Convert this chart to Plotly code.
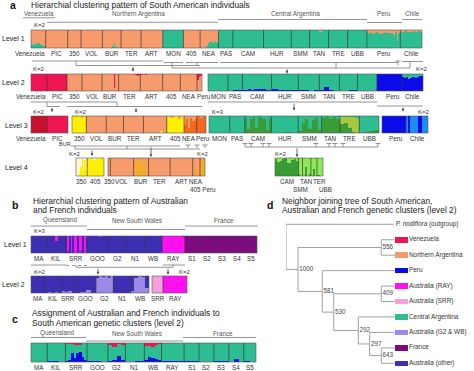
import plotly.graph_objects as go

W, H = 474, 371
FONT = "Liberation Sans, Arial, sans-serif"

# ---------------- colours ----------------
ORANGE = "#F79B6C"
TEAL = "#2DBD92"
RED = "#EF1452"
DARKRED = "#C8102E"
BLUE = "#0B0BEA"
LBLUE = "#1E8DF0"
YELLOW = "#FFF000"
DORANGE = "#F36A1E"
DGREEN = "#3B9B34"
LIME = "#A8C73E"
LGREEN = "#8EE85A"
CREAM = "#FFF8D2"
GOLD = "#F3AE1F"
AUS = "#3C2FB4"
MAGENTA = "#FF10F0"
PURPLE = "#7E0A80"
LPURPLE = "#9A8AE6"
PINK = "#F5A0DD"

# ---------------- data: panel a ----------------
L1_pops = ["Venezuela", "PIC", "350", "VOL", "BUR", "TER", "ART", "MON", "405", "NEA",
           "PAS", "CAM", "HUR", "SMM", "TAN", "TRE", "UBB", "Peru", "Chile"]
L1_sizes = [44, 66, 40, 64, 56, 60, 65, 62, 50, 55, 43, 92, 83, 55, 57, 57, 58, 100, 65]
L1_green = [
    [0.22, 0.18, 0.25, 0.2, 0.28, 0.3, 0.2, 0.15, 0.12, 0.1],
    [0], [0], [0],
    [0, 0, 0, 0, 0, 0.12, 0.3, 0.08, 0, 0],
    [0], [0], [1], [0],
    [0, 0, 0, 0, 0.1, 0.25, 0.35, 0.4, 0.3, 0.38, 0.32, 0.3],
    [1], [1], [1], [1], [1, 1, 1, 0.9, 1, 1], [1], [1],
    [0.85, 0.82, 0.88, 0.8, 0.84, 0.9, 0.86, 0.8, 0.83, 0.88, 0.85, 0.82, 0.86, 0.84, 0.7, 0.88, 0.4, 0.86],
    [0.88, 0.9, 0.92, 0.9, 0.87, 0.91, 0.93, 0.9, 0.92, 0.9],
]

L2A_pops = ["Venezuela", "PIC", "350", "VOL", "BUR", "TER", "ART", "405", "NEA", "Peru"]
L2A_sizes = [48, 60, 45, 60, 50, 65, 67, 53, 50, 15]
L2A_red = [[1], [1], [0], [0], [0, 0, 0, 0, 0, 0, 0, 0.85, 0, 0],
           [0, 0, 0, 0, 0, 0, 0, 0, 0, 0, 0.06, 0.1, 0.04],
           [0.08, 0, 0.05, 0, 0, 0, 0, 0, 0, 0], [0], [0], [0.35, 0.2, 0.1]]

L2B_pops = ["MON", "PAS", "CAM", "HUR", "SMM", "TAN", "TRE", "UBB", "Peru", "Chile"]
L2B_sizes = [60, 43, 87, 80, 63, 60, 54, 58, 75, 63]
L2B_blue = [[0], [0.02, 0.04, 0.03],
            [0.05, 0.08, 0.12, 0.07, 0.1, 0.14, 0.09, 0.12, 0.08, 0.06],
            [0.09, 0.12, 0.07, 0.05, 0.06, 0.04, 0.05, 0.03],
            [0.03, 0.05, 0.02, 0.04], [0.03, 0.22, 0.04, 0.02], [0.02, 0.03], [0.02], [1],
            [0.82, 0.76, 0.8, 0.72, 0.78, 0.84, 0.76, 0.8, 0.86, 0.9]]

L3A_pops = ["Venezuela", "PIC"]
L3A_sizes = [48, 63]
L3A_darkred = [[1], [0]]

L3B_pops = ["350", "VOL", "BUR", "TER", "ART", "405", "NEA", "Peru"]
L3B_sizes = [43, 60, 52, 60, 70, 52, 38, 28]
L3B_yellow = [[1, 0.95, 1, 0.9, 1], [0], [0], [0], [0, 0, 0, 0, 0, 0.1, 0],
              [1, 0.9, 0.95, 1, 0.85, 1], [0], [0]]
L3B_dorange = [[0], [0], [0], [0], [0], [0], [0.5, 0.8, 0.3, 0.9, 0.7, 0.85], [1, 0.9, 1]]

L3C_pops = ["MON", "PAS", "CAM", "HUR", "SMM", "TAN", "TRE", "UBB"]
L3C_sizes = [62, 45, 80, 80, 70, 55, 58, 59]
L3C_dgreen = [[0], [0], [0.9, 0.25, 0.85, 0.92, 0.3, 0.95, 0.9, 0.8, 0.2, 0.88],
              [0, 0, 0.06, 0], [0.1, 0.6, 0.8, 0.25, 0.75, 0.9, 0.15],
              [0.9, 0.95, 0.85, 0.92, 0.8], [0.55, 0.6, 0.3, 0.05, 0], [0, 0.05, 0.12, 0.2]]
L3C_lime = [[0], [0], [0], [0], [0], [0], [0.4, 0.35, 0.65, 0.9, 0.9], [0]]

L3D_pops = ["Peru", "Chile"]
L3D_sizes = [71, 65]
L3D_blue = [[1], [0, 1, 0, 0, 0, 0, 1, 1, 0, 0, 0]]

L4A_pops = ["350", "405"]
L4A_sizes = [34, 51]
L4A_yellow = [[0, 0, 0.15, 0.5, 0.95, 0.4, 0.9, 0.3], [1, 0.95, 1, 0.9, 1, 0.95, 1, 1]]

L4B_pops = ["350", "VOL", "BUR", "TER", "ART", "NEA", "405 Peru"]
L4B_sizes = [7, 70, 45, 65, 68, 22, 15]
L4B_gold = [[0], [0], [0, 0.85, 0.9, 0.6, 0.95, 0.3, 0.8, 0], [0], [0], [0, 0, 0.4, 0], [0.9, 1, 0.85]]

L4C_pops = ["CAM", "SMM", "TAN", "TER", "UBB"]
L4C_sizes = [70, 12, 25, 18, 18]
L4C_dgreen = [[0.95, 0.8, 0.85, 0.92, 1, 0.75, 0.7, 0.9, 0.95, 0.85], [0.1, 0],
              [0, 0.5, 0, 0.1], [0, 0.4, 0], [0.05, 0]]

# ---------------- data: panel b ----------------
B1_pops = ["MA", "KIL", "SRR", "GOO", "G2", "N1", "WB", "RAY", "S1", "S2", "S3", "S4", "S5"]
B1_sizes = [49, 55, 65, 63, 53, 57, 52, 68, 45, 45, 45, 45, 37]
B1_magenta = [[0], [0, 0, 0, 0.3, 0, 0, 0],
              [0, 0.9, 0, 1, 0, 1, 1, 0, 1, 0.8, 0, 1, 0.1],
              [0, 0, 0.05, 0], [0], [0], [0], [1, 1, 1, 1, 1, 1, 0.95],
              [0], [0], [0], [0], [0]]
B1_purple = [[0], [0], [0], [0], [0], [0], [0], [0, 0, 0, 0, 0, 0, 0.05],
             [1], [1], [1], [1], [1]]

B2A_pops = ["MA", "KIL", "SRR", "GOO", "G2", "N1", "WB"]
B2A_sizes = [40, 52, 40, 63, 52, 52, 55]
B2A_light = [[0], [0, 0.05, 0, 0.08, 0], [0.1, 0.05, 0.12, 0], [0, 0.08, 0.2, 0],
             [0.9, 1, 0.95, 1, 0.88, 1], [0], [0.1, 0.9, 1, 0.95, 0.3]]

B2B_pops = ["SRR", "RAY"]
B2B_sizes = [33, 72]
B2B_pink = [[1], [0]]

# ---------------- data: panel c ----------------
C_pops = ["MA", "KIL", "SRR", "GOO", "G2", "N1", "WB", "RAY", "S1", "S2", "S3", "S4", "S5"]
C_sizes = [49, 55, 65, 63, 53, 57, 52, 68, 45, 45, 45, 45, 37]
C_blue = [[0.02, 0.01], [0.03, 0.05, 0.02], [0.05, 0.1, 0.45, 0.2, 0.5, 0.55, 0.25, 0.1],
          [0.05, 0.03, 0.02], [0.05, 0.12, 0.3, 0.08], [0.02, 0.03],
          [0.1, 0.25, 0.2, 0.15, 0.08], [0.06, 0.04, 0.03], [0.03], [0.02], [0.03],
          [0.02, 0.15, 0.02], [0.04, 0.02]]
C_red = [[0], [0], [0.05, 0.1, 0], [0], [0.12, 0.2, 0.05, 0.1], [0],
         [0.18, 0.22, 0.1, 0.05], [0], [0.02], [0], [0], [0], [0]]

# ---------------- data: panel d (tree) ----------------
TREE_LEAVES = ["<i>P. nodiflora</i> (outgroup)", "Venezuela", "Northern Argentina", "Peru",
               "Australia (RAY)", "Australia (SRR)", "Central Argentina",
               "Australia (G2 & WB)", "France", "Australia (other)"]
TREE_LEAF_COLORS = [None, RED, ORANGE, BLUE, MAGENTA, PINK, TEAL, LPURPLE, PURPLE, AUS]
TREE_LEAF_DEPTH = [107.7, 108.7, 108.7, 108.7, 108.7, 108.7, 108.7, 108.7, 108.7, 108.7]
NODE_SUPPORT = ["556", "409", "643", "297", "292", "530", "581", "1000", ""]
NODE_DEPTH = [95.3, 95.3, 95.3, 83.7, 72.3, 47.7, 36.3, 12.0, 0.0]
NODE_CHILDREN = [("L1", "L2"), ("L4", "L5"), ("L8", "L9"), ("L7", "N2"), ("L6", "N3"),
                 ("N1", "N4"), ("L3", "N5"), ("N0", "N6"), ("L0", "N7")]

# ---------------- builders ----------------
traces, shapes, annots = [], [], []
axes_layout = {}
naxes = [0]
LABEL_SHIFT = {("a1", "Venezuela"): -8, ("a2", "Venezuela"): -8, ("a3", "Venezuela"): -8,
               ("a2", "Peru"): 4, ("a3", "Peru"): 2, ("a3", "NEA"): -1,
               ("a4c", "TER"): 6, ("a4c", "UBB"): 6}
LINE_C = "#7a7a7a"
TITLE_SIZE = 8.4


def add_axes(x0, x1, y0, y1, xr, yr):
    naxes[0] += 1
    s = "" if naxes[0] == 1 else str(naxes[0])
    axes_layout["xaxis" + s] = dict(domain=[x0 / W, x1 / W], range=xr, visible=False,
                                    fixedrange=True, anchor="y" + s)
    axes_layout["yaxis" + s] = dict(domain=[1 - y1 / H, 1 - y0 / H], range=yr, visible=False,
                                    fixedrange=True, anchor="x" + s)
    return "x" + s, "y" + s


def structure_block(tag, box, pops, sizes, comps, rows=None):
    x0, x1, y0, y1 = box
    total = sum(sizes)
    xa, ya = add_axes(x0, x1, y0, y1, [0, total], [0, 1])
    xs, ws = [], []
    cols = [[] for _ in comps]
    start = 0
    for p, size in enumerate(sizes):
        n = max(len(v[p]) for _, v in comps if v is not None)
        w = size / n
        for k in range(n):
            xs.append(start + (k + 0.5) * w)
            ws.append(w * 1.02)
            vals = []
            for _, v in comps:
                if v is None:
                    vals.append(None)
                else:
                    arr = v[p]
                    vals.append(arr[min(k * len(arr) // n, len(arr) - 1)])
            rem = max(0.0, 1 - sum(a for a in vals if a is not None))
            for ci, a in enumerate(vals):
                cols[ci].append(rem if a is None else a)
        start += size
    base = [0.0] * len(xs)
    for ci, (col, _) in enumerate(comps):
        yv = [c if c > 0 else None for c in cols[ci]]
        traces.append(go.Bar(x=xs, y=yv, base=list(base), width=ws,
                             marker=dict(color=col, line=dict(width=0)),
                             xaxis=xa, yaxis=ya, hoverinfo="skip", showlegend=False))
        base = [b + c for b, c in zip(base, cols[ci])]
    c = 0
    for size in sizes[:-1]:
        c += size
        shapes.append(dict(type="line", xref=xa, yref=ya + " domain", x0=c, x1=c, y0=0, y1=1,
                           line=dict(color="#3a3a3a", width=0.7)))
    shapes.append(dict(type="rect", xref=xa + " domain", yref=ya + " domain", x0=0, x1=1,
                       y0=0, y1=1, line=dict(color="#555", width=0.6)))
    c = 0
    for p, (pop, size) in enumerate(zip(pops, sizes)):
        row = rows[p] if rows else 0
        annots.append(dict(x=c + size / 2, y=0, xref=xa, yref=ya + " domain", text=pop,
                           showarrow=False, yanchor="top", xanchor="center",
                           yshift=-row * 8, xshift=LABEL_SHIFT.get((tag, pop), 0),
                           font=dict(size=6.3, color="#333")))
        c += size


def text(x, y, s, size=6.3, anchor="left", color="#333"):
    annots.append(dict(x=x / W, y=1 - y / H, xref="paper", yref="paper", text=s,
                       showarrow=False, xanchor=anchor, yanchor="middle",
                       font=dict(size=size, color=color)))


def seg(x0, y0, x1, y1, dash="solid", color=LINE_C, width=0.8):
    shapes.append(dict(type="line", xref="paper", yref="paper", x0=x0 / W, x1=x1 / W,
                       y0=1 - y0 / H, y1=1 - y1 / H, line=dict(color=color, width=width, dash=dash)))


def arrow(x, y0, y1):
    annots.append(dict(x=x / W, y=1 - y1 / H, xref="paper", yref="paper", ax=0,
                       ay=-(y1 - y0), axref="pixel", ayref="pixel", text="", showarrow=True,
                       arrowhead=2, arrowsize=0.7, arrowwidth=0.8, arrowcolor="#444"))


def tee(x, y0, y1):
    seg(x - 2.5, y0, x + 2.5, y0)
    seg(x, y0, x, y1)


# ---------------- panel a ----------------
text(13, 5.5, "<b>a</b>", size=10.5, anchor="center", color="#111")
text(29, 5.5, "Hierarchial clustering pattern of South American individuals", size=TITLE_SIZE, color="#222")
for lab, cx in [("Venezuela", 39), ("Northern Argentina", 138), ("Central Argentina", 295),
                ("Peru", 384), ("Chile", 412)]:
    text(cx, 13.8, lab, size=6.3, anchor="center", color="#555")
seg(23, 17.8, 55, 17.8); seg(47, 22.3, 218, 22.3); seg(218, 19.5, 367, 19.5)
seg(367, 22.5, 402, 22.5); seg(402, 19.5, 422, 19.5)

structure_block("a1", (31, 422, 30, 48), L1_pops, L1_sizes, [(TEAL, L1_green), (ORANGE, None)])
structure_block("a2", (31, 202, 74, 91), L2A_pops, L2A_sizes, [(ORANGE, None), (RED, L2A_red)])
structure_block("a2", (208, 423, 74, 91), L2B_pops, L2B_sizes, [(BLUE, L2B_blue), (TEAL, None)])
structure_block("a3", (31, 68, 116, 133), L3A_pops, L3A_sizes, [(DARKRED, L3A_darkred), (RED, None)])
structure_block("a3", (72, 206, 116, 133), L3B_pops, L3B_sizes,
                [(YELLOW, L3B_yellow), (DORANGE, L3B_dorange), (ORANGE, None)])
structure_block("a3", (209, 379, 116, 133), L3C_pops, L3C_sizes,
                [(DGREEN, L3C_dgreen), (LIME, L3C_lime), (TEAL, None)])
structure_block("a3", (382, 428, 116, 133), L3D_pops, L3D_sizes, [(BLUE, L3D_blue), (LBLUE, None)])
structure_block("a4", (76, 104, 158, 176), L4A_pops, L4A_sizes, [(YELLOW, L4A_yellow), (CREAM, None)])
structure_block("a4", (108, 205, 158, 176), L4B_pops, L4B_sizes, [(GOLD, L4B_gold), (ORANGE, None)],
                rows=[0, 0, 0, 0, 0, 0, 1])
structure_block("a4c", (275, 323, 158, 176), L4C_pops, L4C_sizes, [(DGREEN, L4C_dgreen), (LGREEN, None)],
                rows=[0, 1, 0, 0, 1])

for lab, y, x in [("Level 1", 38, 0), ("Level 2", 82.5, 0), ("Level 3", 125, 3), ("Level 4", 167, 3)]:
    text(x, y, lab, size=7, color="#222")
for x, y, k in [(32, 25, "K=2"), (31, 69, "K=2"), (414, 69, "K=2"), (31, 112, "K=2"),
                (73, 112, "K=2"), (210, 112, "K=3"), (416, 112, "K=2"), (67, 154, "K=2"),
                (195, 154, "K=2"), (273, 154, "K=2")]:
    text(x, y, k, size=6, color="#333")

# connectors level 1 -> 2
seg(32, 61, 163, 61); seg(76, 61, 76, 65.5); seg(76, 65.5, 200, 65.5); arrow(133, 65.5, 71.5)
seg(164, 62.5, 183, 62.5); seg(172, 62.5, 172, 68)
seg(186, 62.5, 218, 62.5); seg(197, 62.5, 197, 65.5)
seg(220, 62.5, 398, 62.5); seg(336, 62.5, 336, 68); tee(398, 61, 65)
seg(402, 61.5, 423, 61.5); seg(410, 61.5, 410, 68); seg(172, 68, 410, 68)
arrow(287, 68, 73.5)
# connectors level 2 -> 3
seg(31, 102, 67, 102); seg(47, 102, 47, 106.5); seg(47, 106.5, 60, 106.5); arrow(52, 106.5, 112)
seg(67, 106.5, 202, 106.5); seg(117, 102, 117, 106.5); seg(67, 102, 117, 102); arrow(136, 106.5, 112.5)
seg(208, 102, 377, 102); arrow(294, 102, 110.5)
seg(377, 106, 423, 106); arrow(403, 106, 111.5)
# connectors level 3 -> 4
text(65, 143.5, "BUR", size=5.5, anchor="center", color="#333")
seg(71, 146, 180, 146); seg(75, 149, 200, 149); seg(75, 146, 75, 149); seg(127, 146, 127, 149)
arrow(92, 149, 156); arrow(151, 146, 157)
for tx in (188, 197, 205):
    tee(tx, 145, 148)
seg(245, 147, 378, 147)
for tx in (245, 251, 263, 269, 316, 329, 335, 343, 378):
    tee(tx, 143.5, 147)
arrow(297, 147, 157)

# ---------------- panel b ----------------
text(15, 205, "<b>b</b>", size=10.5, anchor="center", color="#111")
text(31, 200.5, "Hierarchial clustering pattern of Australian", size=TITLE_SIZE, color="#222")
text(31, 210.5, "and French individuals", size=TITLE_SIZE, color="#222")
for lab, cx in [("Queensland", 60), ("New South Wales", 137), ("France", 224)]:
    text(cx, 220, lab, size=6.3, anchor="center", color="#555")
seg(31, 226, 87, 226); seg(87, 229.5, 185, 229.5); seg(185, 226, 258, 226)
structure_block("b1", (31, 257, 236, 253), B1_pops, B1_sizes,
                [(AUS, None), (MAGENTA, B1_magenta), (PURPLE, B1_purple)])
structure_block("b2", (31, 149, 276, 293), B2A_pops, B2A_sizes, [(LPURPLE, B2A_light), (AUS, None)])
structure_block("b2", (152, 187, 276, 293), B2B_pops, B2B_sizes, [(PINK, B2B_pink), (MAGENTA, None)])
text(2, 244.5, "Level 1", size=7, color="#222")
text(0, 284.5, "Level 2", size=7, color="#222")
text(32, 231, "K=3", size=6); text(32, 272, "K=2", size=6); text(177, 272, "K=2", size=6)
seg(31, 265, 66, 265); seg(66, 265.5, 88, 265.5, dash="dot")
seg(76, 265, 76, 267.3); seg(76, 267.3, 173, 267.3); arrow(98, 267.3, 274.5)
seg(163, 265, 185, 265); seg(173, 265, 173, 267.3); arrow(168, 267.3, 274.5)

# ---------------- panel c ----------------
text(15, 318.5, "<b>c</b>", size=10.5, anchor="center", color="#111")
text(30, 313, "Assignment of Australian and French individuals to", size=TITLE_SIZE, color="#222")
text(30, 323, "South American genetic clusters (level 2)", size=TITLE_SIZE, color="#222")
for lab, cx in [("Queensland", 57), ("New South Wales", 137), ("France", 223)]:
    text(cx, 333, lab, size=6.3, anchor="center", color="#555")
seg(31, 337.5, 86, 337.5); seg(86, 341, 183, 341); seg(183, 337.5, 256, 337.5)
structure_block("c", (31, 256, 343, 362), C_pops, C_sizes,
                [(BLUE, C_blue), (TEAL, None), (RED, C_red)])

# ---------------- panel d ----------------
text(270, 205, "<b>d</b>", size=10.5, anchor="center", color="#111")
text(280, 200.5, "Neighbor joining tree of South American,", size=TITLE_SIZE, color="#222")
text(280, 210.5, "Australian and French genetic clusters (level 2)", size=TITLE_SIZE, color="#222")

step = 15.44
txa, tya = add_axes(286, 474, 224.3 - 0.4 * step, 363.3 + 0.4 * step, [0, 188], [9.4, -0.4])
pos = {}
for i, d in enumerate(TREE_LEAF_DEPTH):
    pos["L%d" % i] = (d, float(i))
lx, ly = [], []
for j, (d, (c1, c2)) in enumerate(zip(NODE_DEPTH, NODE_CHILDREN)):
    y1, y2 = pos[c1][1], pos[c2][1]
    lx += [d, d, None]
    ly += [y1, y2, None]
    for c in (c1, c2):
        lx += [d, pos[c][0], None]
        ly += [pos[c][1], pos[c][1], None]
    pos["N%d" % j] = (d, (y1 + y2) / 2)
traces.append(go.Scatter(x=lx, y=ly, mode="lines", line=dict(color="#a0a0a0", width=1),
                         xaxis=txa, yaxis=tya, hoverinfo="skip", showlegend=False))
traces.append(go.Scatter(x=[pos["N%d" % j][0] + 1.2 for j in range(len(NODE_DEPTH))],
                         y=[pos["N%d" % j][1] for j in range(len(NODE_DEPTH))],
                         text=NODE_SUPPORT, mode="text", textposition="middle right",
                         textfont=dict(size=6.3, color="#444", family=FONT), cliponaxis=False,
                         xaxis=txa, yaxis=tya, hoverinfo="skip", showlegend=False))
traces.append(go.Bar(orientation="h", y=list(range(1, len(TREE_LEAVES))),
                     x=[13] * (len(TREE_LEAVES) - 1), base=[109] * (len(TREE_LEAVES) - 1),
                     width=0.36, marker=dict(color=TREE_LEAF_COLORS[1:], line=dict(width=0)),
                     xaxis=txa, yaxis=tya, hoverinfo="skip", showlegend=False))
traces.append(go.Scatter(x=[123] * (len(TREE_LEAVES) - 1), y=list(range(1, len(TREE_LEAVES))),
                         text=TREE_LEAVES[1:], mode="text", textposition="middle right",
                         textfont=dict(size=6.4, color="#333", family=FONT), cliponaxis=False,
                         xaxis=txa, yaxis=tya, hoverinfo="skip", showlegend=False))
traces.append(go.Scatter(x=[TREE_LEAF_DEPTH[0] + 2], y=[0], text=[TREE_LEAVES[0]], mode="text",
                         textposition="middle right",
                         textfont=dict(size=6.4, color="#333", family=FONT), cliponaxis=False,
                         xaxis=txa, yaxis=tya, hoverinfo="skip", showlegend=False))

fig = go.Figure(data=traces)
fig.update_layout(width=W, height=H, margin=dict(l=0, r=0, t=0, b=0),
                  paper_bgcolor="white", plot_bgcolor="rgba(0,0,0,0)",
                  barmode="overlay", bargap=0, showlegend=False,
                  font=dict(family=FONT, color="#333"),
                  shapes=shapes, annotations=annots, **axes_layout)
fig.write_html("out.html", config=dict(displayModeBar=False, staticPlot=True),
               post_script="document.body.style.margin='0';document.body.style.padding='0';"
                           "document.body.style.overflow='hidden';")
